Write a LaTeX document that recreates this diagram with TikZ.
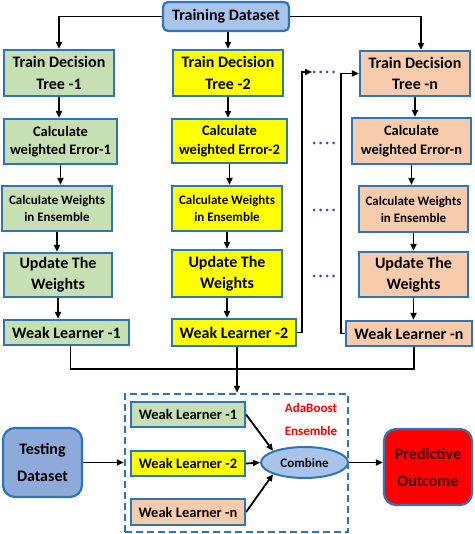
\documentclass[tikz,border=0pt]{standalone}
\usepackage{fontspec}
\setmainfont{Carlito}
\usetikzlibrary{arrows.meta,shapes.geometric}
\definecolor{bblue}{HTML}{2E75B6}
\definecolor{cgreen}{HTML}{C6E0B4}
\definecolor{cyellow}{HTML}{FFFF00}
\definecolor{cpeach}{HTML}{F8CBAD}
\definecolor{ctrain}{HTML}{A9C4EB}
\definecolor{ctest}{HTML}{8EAADB}
\definecolor{cdots}{HTML}{2F5597}
\definecolor{cdark}{HTML}{3A0000}
\definecolor{cred}{HTML}{FF0000}
\begin{document}
\begin{tikzpicture}[x=1pt,y=-1pt,
  box/.style={draw=bblue, line width=2.2pt, align=center, inner sep=0pt},
  sz/.style n args={2}{minimum width=#1pt, minimum height=#2pt},
  fA/.style={font=\bfseries\fontsize{16}{21.7}\selectfont},
  fB/.style={font=\bfseries\fontsize{14.5}{18.3}\selectfont},
  fC/.style={font=\bfseries\fontsize{13}{17}\selectfont},
  fD/.style={font=\bfseries\fontsize{16}{20.7}\selectfont},
  fE/.style={font=\bfseries\fontsize{16}{27}\selectfont},
  arr/.style={line width=1.8pt, -{Triangle[length=7pt,width=6pt]}},
  plain/.style={line width=1.8pt},
]
\useasboundingbox (0,0) rectangle (474,534);

% training dataset
\node[box,rounded corners=5pt,fill=ctrain,fA,sz={126}{29}] (td) at (226,16.5) {Training Dataset};

% column 1
\node[box,fill=cgreen,fA,sz={110}{46}] (t1) at (59,73) {Train Decision\\Tree -1};
\node[box,fill=cgreen,fB,sz={113}{45}] (e1) at (60.5,141.5) {Calculate\\weighted Error-1};
\node[box,fill=cgreen,fC,sz={110}{45}] (w1) at (57,208.5) {Calculate Weights\\in Ensemble};
\node[box,fill=cgreen,fD,sz={108}{44}] (u1) at (58,275) {Update The\\Weights};
\node[box,fill=cgreen,fA,sz={125}{25}] (l1) at (66.5,332.5) {Weak Learner -1};

% column 2
\node[box,fill=cyellow,fA,sz={110}{46}] (t2) at (228,73) {Train Decision\\Tree -2};
\node[box,fill=cyellow,fB,sz={115}{44}] (e2) at (229.5,141) {Calculate\\weighted Error-2};
\node[box,fill=cyellow,fC,sz={110}{45}] (w2) at (227,208.5) {Calculate Weights\\in Ensemble};
\node[box,fill=cyellow,fD,sz={110}{47}] (u2) at (227,273.5) {Update The\\Weights};
\node[box,fill=cyellow,fA,sz={124}{27}] (l2) at (234,332.5) {Weak Learner -2};

% column n
\node[box,fill=cpeach,fA,sz={110}{45}] (tn) at (415,73.5) {Train Decision\\Tree -n};
\node[box,fill=cpeach,fB,sz={119}{46}] (en) at (411.5,141) {Calculate\\weighted Error-n};
\node[box,fill=cpeach,fC,sz={109}{46}] (wn) at (413.5,209) {Calculate Weights\\in Ensemble};
\node[box,fill=cpeach,fD,sz={109}{45}] (un) at (413.5,274.5) {Update The\\Weights};
\node[box,fill=cpeach,fA,sz={126}{25}] (ln) at (409,333.5) {Weak Learner -n};

% arrows from training dataset
\draw[arr] (td.west) -| (t1.north);
\draw[arr] (t2.north |- td.south) -- (t2.north);
\draw[arr] (td.east) -| ([xshift=6pt]tn.north);

% column arrows
\foreach \a/\b in {t1/e1,e1/w1,w1/u1,u1/l1,t2/e2,e2/w2,w2/u2,u2/l2,tn/en,en/wn,wn/un,un/ln}
  \draw[arr] (\a.south) -- (\a.south |- \b.north);

% dots
\foreach \y in {72,143,210,276}
  \foreach \x in {314,320.5,327,333.5}
    \fill[cdots] (\x,\y) circle (1.5pt);

% feedback arrows
\coordinate (d1) at (312,72);
\draw[arr] (l2.east) -- ++(5,0) |- (d1);
\draw[arr] (ln.west) -- ++(-4,0) |- (tn.west);

% ensemble box
\node[draw=bblue, line width=2.5pt, dash pattern=on 7pt off 4pt, minimum width=223pt, minimum height=138pt, inner sep=0pt] (ens) at (236.5,463) {};

% bottom collector
\draw[plain] ([xshift=4pt]l1.south) -- ++(0,23) -| ([xshift=5pt]ln.south);
\draw[arr] ([xshift=3pt]l2.south) -- ([xshift=3pt]l2.south |- ens.north);

% ensemble content
\node[box,fill=cgreen,fB,sz={114}{25}] (s1) at (188,414.5) {Weak Learner -1};
\node[box,fill=cyellow,fB,sz={114}{25}] (s2) at (188,463.5) {Weak Learner -2};
\node[box,fill=cpeach,fB,sz={114}{26}] (sn) at (188,512) {Weak Learner -n};
\node[ellipse, draw=bblue, line width=2pt, fill=ctrain, minimum width=87pt, minimum height=31pt, inner sep=0pt, font=\bfseries\fontsize{13}{15}\selectfont] (comb) at (304.5,462.5) {Combine};
\node[text=cred, align=center, font=\bfseries\fontsize{13}{23}\selectfont] (ada) at (311,419.5) {AdaBoost\\Ensemble};

% testing and predictive
\node[box,rounded corners=12pt,fill=ctest,fE,sz={79}{69}] (test) at (42.5,462.5) {Testing\\Dataset};
\node[box,rounded corners=12pt,fill=cred,text=cdark,fE,sz={88}{76}] (pred) at (428,467) {Predictive\\Outcome};

\draw[arr] (test.east) -- (test.east -| ens.west);
\draw[arr] (comb.east) -- (comb.east -| pred.west);
\draw[arr] (s1.east) -- (comb.north west);
\draw[arr] (s2.east) -- (comb.west);
\draw[arr] (sn.east) -- (comb.south west);
\end{tikzpicture}
\end{document}
